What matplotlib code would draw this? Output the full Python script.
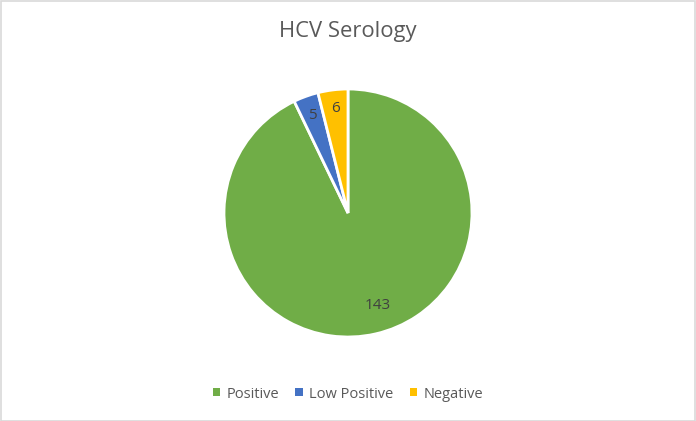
import matplotlib
matplotlib.use("Agg")
import matplotlib.pyplot as plt
import numpy as np
from matplotlib.patches import Rectangle

categories = ["Positive", "Low Positive", "Negative"]
values = [143, 5, 6]
colors = ["#70AD47", "#4472C4", "#FFC000"]
title = "HCV Serology"

plt.rcParams['font.family'] = ['Open Sans', 'DejaVu Sans']
txt = "#595959"

W, H = 696, 421
fig = plt.figure(figsize=(W/100, H/100), dpi=100)
fig.patch.set_facecolor("white")
fig.add_artist(Rectangle((0.5/W, 0.5/H), 1-1.5/W, 1-1.5/H, transform=fig.transFigure,
                         fill=False, edgecolor="#D9D9D9", linewidth=1.2))

cx, cy, r = 348, 213, 124
ax = fig.add_axes([(cx-r)/W, (H-cy-r)/H, 2*r/W, 2*r/H])
wedges, _ = ax.pie(values, colors=colors, startangle=90, counterclock=False,
                   radius=1.0, wedgeprops=dict(edgecolor="white", linewidth=2))
ax.set_xlim(-1, 1); ax.set_ylim(-1, 1)
ax.set_aspect("equal")
ax.axis("off")

dists = [0.78, 0.84, 0.85]
ang_off = [5.0, 0.0, 0.0]
for w, v, d, o in zip(wedges, values, dists, ang_off):
    ang = np.deg2rad((w.theta1 + w.theta2) / 2 + o)
    ax.text(d*np.cos(ang), d*np.sin(ang), str(v), ha="center", va="center",
            fontsize=11, color="#404040")

fig.text(0.5, 1-32/H, title, ha="center", va="center", fontsize=15.8, color=txt)

handles = [Rectangle((0, 0), 1, 1, facecolor=c, edgecolor="none") for c in colors]
fig.legend(handles, categories, loc="center", bbox_to_anchor=(0.5, 1-394/H), ncol=3,
           frameon=False, fontsize=10.5, labelcolor=txt, handlelength=0.5, handleheight=0.5,
           handletextpad=0.45, columnspacing=1.1)

fig.savefig("out.png", dpi=100, facecolor="white")
